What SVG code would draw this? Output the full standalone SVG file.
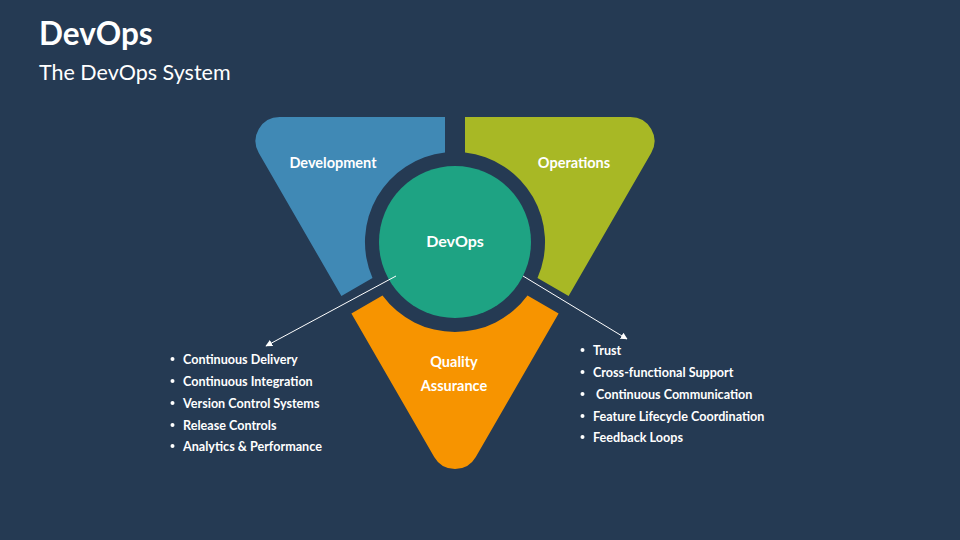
<svg xmlns="http://www.w3.org/2000/svg" width="960" height="540" viewBox="0 0 960 540">
  <defs>
    <marker id="arrow" viewBox="0 0 10 10" refX="9" refY="5" markerWidth="7" markerHeight="7" markerUnits="userSpaceOnUse" orient="auto">
      <path d="M0,0 L10,5 L0,10 Z" fill="#FFFFFF"/>
    </marker>
    <style>
      .title { font-family: Lato, "Open Sans", sans-serif; font-weight: 700; font-size: 31.5px; fill: #FFFFFF; }
      .subtitle { font-family: Lato, "Open Sans", sans-serif; font-weight: 400; font-size: 21.5px; fill: #FFFFFF; }
      .label { font-family: Lato, "Open Sans", sans-serif; font-weight: 700; font-size: 14.5px; fill: #FFFFFF; text-anchor: middle; }
      .center { font-family: Lato, "Open Sans", sans-serif; font-weight: 700; font-size: 16px; fill: #FFFFFF; text-anchor: middle; }
      .item { font-family: Lato, "Open Sans", sans-serif; font-weight: 700; font-size: 12.6px; fill: #FFFFFF; }
      .bullet { fill: #FFFFFF; }
      .conn { stroke: #FFFFFF; stroke-width: 1; fill: none; marker-end: url(#arrow); }
    </style>
  </defs>
  <rect x="0" y="0" width="960" height="540" fill="#253A53"/>

  <text class="title" x="39" y="45">DevOps</text>
  <text class="subtitle" x="39" y="80">The DevOps System</text>

  <g id="development">
    <path d="M445,117 L279.6,117 A24,24 0 0 0 258.8,153 L341.4,296 L372.5,278.1 A90,90 0 0 1 445,152.6 Z" fill="#4089B5"/>
    <text class="label" x="333" y="168">Development</text>
  </g>
  <g id="operations">
    <path d="M465,117 L630.4,117 A24,24 0 0 1 651.2,153 L568.6,296 L537.5,278.1 A90,90 0 0 0 465,152.6 Z" fill="#A8B825"/>
    <text class="label" x="574" y="168">Operations</text>
  </g>
  <g id="quality-assurance">
    <path d="M351.4,313.4 L434.2,457 A24,24 0 0 0 475.8,457 L558.6,313.4 L527.5,295.4 A90,90 0 0 1 382.5,295.4 Z" fill="#F79400"/>
    <text class="label" x="454" y="367">Quality</text>
    <text class="label" x="454" y="391">Assurance</text>
  </g>
  <g id="devops">
    <circle cx="455" cy="242" r="76" fill="#1EA383"/>
    <text class="center" x="455" y="247">DevOps</text>
  </g>

  <g id="connectors">
    <line class="conn" x1="396" y1="276" x2="266" y2="346"/>
    <line class="conn" x1="523" y1="276" x2="627" y2="339"/>
  </g>

  <g id="list-left">
    <circle class="bullet" cx="172.5" cy="359" r="2"/>
    <text class="item" x="183" y="363.5">Continuous Delivery</text>
    <circle class="bullet" cx="172.5" cy="381" r="2"/>
    <text class="item" x="183" y="385.5">Continuous Integration</text>
    <circle class="bullet" cx="172.5" cy="403" r="2"/>
    <text class="item" x="183" y="407.5">Version Control Systems</text>
    <circle class="bullet" cx="172.5" cy="425" r="2"/>
    <text class="item" x="183" y="429.5">Release Controls</text>
    <circle class="bullet" cx="172.5" cy="446" r="2"/>
    <text class="item" x="183" y="450.5">Analytics &amp; Performance</text>
  </g>

  <g id="list-right">
    <circle class="bullet" cx="582.5" cy="350" r="2"/>
    <text class="item" x="593" y="354.5">Trust</text>
    <circle class="bullet" cx="582.5" cy="372" r="2"/>
    <text class="item" x="593" y="376.5">Cross-functional Support</text>
    <circle class="bullet" cx="582.5" cy="394" r="2"/>
    <text class="item" x="596" y="398.5">Continuous Communication</text>
    <circle class="bullet" cx="582.5" cy="416" r="2"/>
    <text class="item" x="593" y="420.5">Feature Lifecycle Coordination</text>
    <circle class="bullet" cx="582.5" cy="437" r="2"/>
    <text class="item" x="593" y="441.5">Feedback Loops</text>
  </g>
</svg>
